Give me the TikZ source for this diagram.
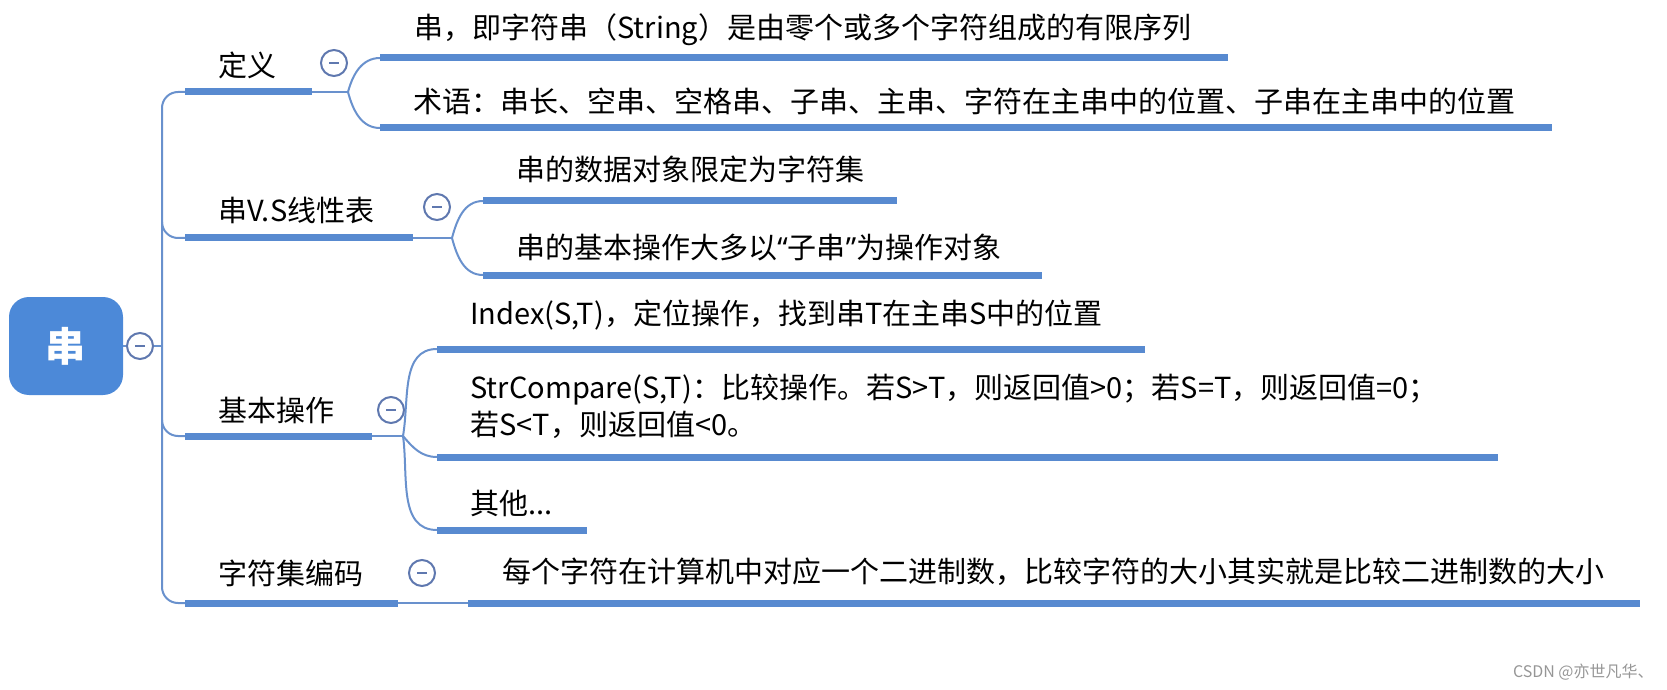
\documentclass[tikz,border=0pt]{standalone}
\usepackage{fontspec}
\newfontfamily\cjk{Noto Sans CJK SC}
\newfontfamily\quotefont{Noto Sans}
\usetikzlibrary{calc}

\definecolor{rootblue}{RGB}{76,137,216}
\definecolor{barblue}{RGB}{88,138,208}
\definecolor{linkblue}{RGB}{105,145,205}
\definecolor{foldblue}{RGB}{95,120,175}
\definecolor{markgray}{RGB}{150,150,150}

\begin{document}
\begin{tikzpicture}[x=0.5pt,y=-0.5pt,
	bar/.style={line width=3.5pt,color=barblue},
	link/.style={line width=1pt,color=linkblue},
	fold/.style={circle,draw=foldblue,line width=1pt,fill=white,minimum size=13pt,inner sep=0pt},
	root/.style={fill=rootblue,rounded corners=10pt,minimum width=57pt,minimum height=49pt,text=white,font=\cjk\bfseries\fontsize{20pt}{24pt}\selectfont},
	txt/.style={anchor=west,inner sep=0pt,align=left,font=\cjk\fontsize{14.5pt}{18.5pt}\selectfont}]

	% ---- canvas

	\useasboundingbox (0,0) rectangle (1667,690);

	% ---- coordinates

	\coordinate (tT) at (162,92);
	\coordinate (tB) at (162,603);
	\coordinate (tv) at (162,224);
	\coordinate (tb) at (162,422);
	\coordinate (t0) at (162,346);

	\coordinate (d0) at (185,92);  \coordinate (d1) at (312,92);  \coordinate (dF) at (348,92);
	\coordinate (v0) at (185,238); \coordinate (v1) at (413,238); \coordinate (vF) at (452,238);
	\coordinate (b0) at (185,436); \coordinate (b1) at (372,436); \coordinate (bF) at (403,436);
	\coordinate (c0) at (185,603); \coordinate (c1) at (398,603);

	\coordinate (d10) at (380,58);  \coordinate (d11) at (1228,58);
	\coordinate (d20) at (380,128); \coordinate (d21) at (1552,128);
	\coordinate (v10) at (483,201); \coordinate (v11) at (897,201);
	\coordinate (v20) at (483,275); \coordinate (v21) at (1042,275);
	\coordinate (b10) at (437,349); \coordinate (b11) at (1145,349);
	\coordinate (b20) at (437,457); \coordinate (b21) at (1498,457);
	\coordinate (b30) at (437,530); \coordinate (b31) at (587,530);
	\coordinate (c10) at (468,603); \coordinate (c11) at (1640,603);

	% ---- root

	\node[root] (R) at (66,346) {串};

	% ---- trunk

	\draw[link,rounded corners=8] (d0) -- (tT) -- (tB) -- (c0);
	\draw[link,rounded corners=8] (tv) |- (v0);
	\draw[link,rounded corners=8] (tb) |- (b0);

	% ---- links

	\foreach \a/\b in {d1/dF,v1/vF,b1/bF,c1/c10} { \draw[link] (\a) -- (\b); }

	\foreach \f/\c/\o in {dF/d10/75,dF/d20/-75,vF/v10/75,vF/v20/-75,bF/b10/80,bF/b20/-50,bF/b30/-82} {
		\draw[link] (\f) to[out=\o,in=180] (\c);
	}

	% ---- bars

	\foreach \a/\b in {d0/d1,v0/v1,b0/b1,c0/c1,d10/d11,d20/d21,v10/v11,v20/v21,b10/b11,b20/b21,b30/b31,c10/c11} {
		\draw[bar] (\a) -- (\b);
	}

	% ---- fold marks

	\node[fold] (m0) at (140,346) {};
	\draw[link] (R.east) -- (m0.west);
	\draw[link] (m0.east) -- (t0);

	\foreach \n/\x/\y in {m1/334/63,m2/437/207,m3/391/410,m4/422/573} {
		\node[fold] (\n) at (\x,\y) {};
	}
	\foreach \n in {m0,m1,m2,m3,m4} {
		\draw[foldblue,line width=1pt] ($(\n)+(-5,0)$) -- ($(\n)+(5,0)$);
	}

	% ---- branch labels

	\node[txt] (def) at (218,65) {定义};
	\node[txt] (vs) at (218,210) {串V.S线性表};
	\node[txt] (ops) at (218,410) {基本操作};
	\node[txt] (enc) at (218,573) {字符集编码};

	% ---- leaf labels

	\node[txt] (def1) at (414,30) {串，即字符串（String）是由零个或多个字符组成的有限序列};
	\node[txt] (def2) at (413,101) {术语：串长、空串、空格串、子串、主串、字符在主串中的位置、子串在主串中的位置};

	\node[txt] (vs1) at (516,169) {串的数据对象限定为字符集};
	\node[txt] (vs2) at (516,248) {串的基本操作大多以{\quotefont “}子串{\quotefont ”}为操作对象};

	\node[txt] (ops1) at (470,315) {Index(S,T)，定位操作，找到串T在主串S中的位置};
	\node[txt] (ops2) at (470,406) {StrCompare(S,T)：比较操作。若S>T，则返回值>0；若S=T，则返回值=0；\\若S<T，则返回值<0。};
	\node[txt] (ops3) at (470,503) {其他...};

	\node[txt] (enc1) at (502,572) {每个字符在计算机中对应一个二进制数，比较字符的大小其实就是比较二进制数的大小};

	% ---- watermark

	\node[anchor=east,inner sep=0pt,text=markgray,font=\cjk\fontsize{8pt}{10pt}\selectfont] (mark) at (1654,672) {CSDN @亦世凡华、};

\end{tikzpicture}
\end{document}
